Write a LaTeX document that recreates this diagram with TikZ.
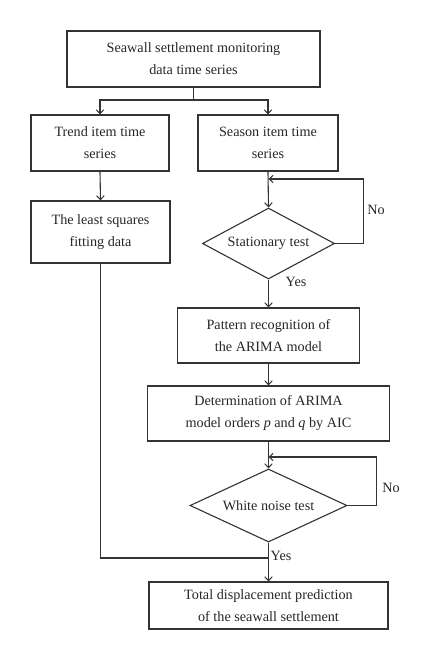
\documentclass[tikz,border=0pt]{standalone}
\usepackage{fontspec}
\setmainfont{Liberation Serif}
\usetikzlibrary{arrows.meta,calc,shapes.geometric}
\definecolor{LineClr}{rgb}{0.2,0.2,0.2}
\definecolor{TextClr}{rgb}{0.15,0.15,0.15}

\begin{document}
\begin{tikzpicture}[x=1pt,y=-1pt,
  line width=1.1pt,color=LineClr,text=TextClr,
  font=\fontsize{14.2}{22}\selectfont,
  box/.style={draw,rectangle,align=center,inner sep=0pt},
  test/.style={draw,diamond,align=center,inner sep=0pt,aspect=1.85},
  arr/.style={-{Straight Barb[length=4pt,width=7.5pt,line width=1pt]}}]
\useasboundingbox (0,0) rectangle (431,660);

\node[box,minimum width=253pt,minimum height=56pt] (data) at (193.5,59)
  {Seawall settlement monitoring\\data time series};
\node[box,minimum width=138pt,minimum height=56pt] (trend) at (100,143)
  {Trend item time\\series};
\node[box,minimum width=140pt,minimum height=56pt] (season) at (268,143)
  {Season item time\\series};
\node[box,minimum width=139pt,minimum height=62pt] (lsq) at (100.5,232)
  {The least squares\\fitting data};
\node[test,minimum width=132pt,minimum height=71pt] (stat) at (268.5,243.5)
  {Stationary test};
\node[box,minimum width=182pt,minimum height=55pt] (pattern) at (268.5,335.5)
  {Pattern recognition of\\the ARIMA model};
\node[box,minimum width=242pt,minimum height=55pt] (order) at (268.5,413.5)
  {Determination of ARIMA\\model orders \textit{p} and \textit{q} by AIC};
\node[test,minimum width=157pt,minimum height=73pt] (white) at (268.5,505.5)
  {White noise test};
\node[box,minimum width=239pt,minimum height=47pt] (total) at (268.5,605.5)
  {Total displacement prediction\\of the seawall settlement};

\coordinate (split) at (193.5,100);
\coordinate (loopS) at (268.5,179);
\coordinate (loopW) at (268.5,457);
\coordinate (join) at (268.5,558);

\draw (data.south) -- (split);
\draw[arr] (split) -| (trend.north);
\draw[arr] (split) -| (season.north);
\draw[arr] (trend.south) -- (lsq.north);
\draw[arr] (season.south) -- (stat.north);
\draw[arr] (stat.east) -- ++(28,0) |- (loopS);
\node (no1) at (376,210) {No};
\draw[arr] (stat.south) -- (pattern.north);
\node (yes1) at (296,282) {Yes};
\draw[arr] (pattern.south) -- (order.north);
\draw[arr] (order.south) -- (white.north);
\draw[arr] (white.east) -- ++(29,0) |- (loopW);
\node (no2) at (391,488) {No};
\draw[arr] (white.south) -- (total.north);
\node (yes2) at (281,556) {Yes};
\draw (lsq.south) |- (join);

\end{tikzpicture}
\end{document}
